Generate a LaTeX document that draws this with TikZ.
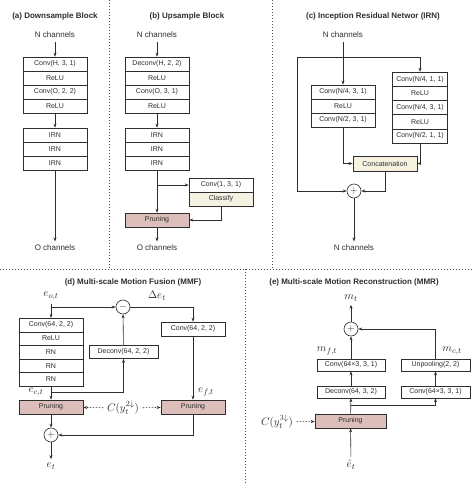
\documentclass[tikz,border=0pt]{standalone}
\usepackage[no-math]{fontspec}
\setmainfont{Liberation Sans}
\usepackage{amsmath}
\usetikzlibrary{arrows.meta,positioning,calc}
\definecolor{ink}{HTML}{2E2E2E}
\definecolor{prunefill}{HTML}{DCBEBA}
\definecolor{cream}{HTML}{F6F2E2}
\tikzset{
  blk/.style={draw=ink,fill=white,minimum width=64pt,minimum height=14pt,inner sep=0pt,font=\fontsize{7}{8}\selectfont},
  prunebox/.style={blk,fill=prunefill},
  lbl/.style={font=\fontsize{8}{9}\selectfont},
  ttl/.style={font=\fontsize{8}{9}\selectfont\bfseries},
  op/.style={draw=ink,fill=white,circle,minimum size=14pt,inner sep=0pt,font=\fontsize{10}{10}\selectfont},
  mlbl/.style={font=\fontsize{11}{12}\selectfont},
  sep/.style={ink!85,line width=1pt,dash pattern=on 1pt off 2pt},
  cue/.style={->,dash pattern=on 1.5pt off 1.5pt}
}
\begin{document}
\begin{tikzpicture}[x=1pt,y=-1pt,>={Stealth[length=4pt,width=3pt]},line width=.6pt,draw=ink,text=ink]
\useasboundingbox (0,0) rectangle (474,485);
% separators
\draw[sep] (109,0)--(109,269);
\draw[sep] (272,0)--(272,269);
\draw[sep] (0,269)--(474,269);
\draw[sep] (245,269)--(245,485);
% (a) downsample
\node[ttl] (ta) at (55,16){(a) Downsample Block};
\node[lbl] (na) at (55,35){N channels};
\foreach \t [count=\i] in {{Conv(H, 3, 1)},ReLU,{Conv(O, 2, 2)},ReLU}{\node[blk] (a\i) at (55,{50+14*\i}){\t};}
\foreach \i in {1,2,3}{\node[blk] (ia\i) at (55,{121+14*\i}){IRN};}
\node[lbl] (oa) at (55,248){O channels};
\draw[->] (na)--(a1);
\draw[->] (a4)--(ia1);
\draw[->] (ia3)--(oa);
% (b) upsample
\node[ttl] (tb) at (187,16){(b) Upsample Block};
\node[lbl] (nb) at (157,35){N channels};
\foreach \t [count=\i] in {{Deconv(H, 2, 2)},ReLU,{Conv(O, 3, 1)},ReLU}{\node[blk] (b\i) at (157,{50+14*\i}){\t};}
\foreach \i in {1,2,3}{\node[blk] (ib\i) at (157,{121+14*\i}){IRN};}
\node[blk] (cb) at (221,185){Conv(1, 3, 1)};
\node[blk,fill=cream] (kb) at (221,199){Classify};
\node[prunebox] (pb) at (157,220){Pruning};
\node[lbl] (ob) at (157,248){O channels};
\draw[->] (nb)--(b1);
\draw[->] (b4)--(ib1);
\draw[->] (ib3)--(pb);
\draw[->] (pb)--(ob);
\draw[->] (ib3.south |- cb.west)--(cb.west);
\draw[->] (kb.south) |- (pb.east);
% (c) inception residual
\node[ttl] (tc) at (373,16){(c) Inception Residual Networ (IRN)};
\node[lbl] (nc) at (343,35){N channels};
\foreach \t [count=\i] in {{Conv(N/4, 3, 1)},ReLU,{Conv(N/2, 3, 1)}}{\node[blk] (lc\i) at (343,{78+14*\i}){\t};}
\foreach \t [count=\i] in {{Conv(N/4, 1, 1)},ReLU,{Conv(N/4, 3, 1)},ReLU,{Conv(N/2, 1, 1)}}{\node[blk,minimum width=55pt,minimum height=14.2pt] (rc\i) at (420,{65+14.2*\i}){\t};}
\node[blk,fill=cream,minimum height=15pt] (cc) at (385,163.5){Concatenation};
\node[op] (pc) at (354,191){$+$};
\node[lbl] (oc) at (354,248){N channels};
\coordinate (lp) at (297,57);
\draw[->] (nc)--(lc1);
\draw[->] (lp) |- (pc.west);
\draw[->] (lp) -| (rc1.north);
\draw[->] (lc3.south) |- (cc.west);
\draw[->] (rc5.south) |- (cc.east);
\draw[->] (cc.south) |- (pc.east);
\draw[->] (pc)--(oc);
% (d) motion fusion
\node[ttl] (td) at (133,282){(d) Multi-scale Motion Fusion (MMF)};
\node[mlbl] (eo) at (51,296){$e_{o,t}$};
\foreach \t [count=\i] in {{Conv(64, 2, 2)},ReLU,RN,RN,RN}{\node[blk,minimum height=13.6pt] (d\i) at (51,{311.4+13.6*\i}){\t};}
\node[op] (md) at (123,307){$-$};
\node[mlbl] (de) at (157,296){$\Delta e_t$};
\node[blk] (cd) at (193,329){Conv(64, 2, 2)};
\node[blk,minimum width=69pt,minimum height=13pt] (dd) at (123.5,352){Deconv(64, 2, 2)};
\node[mlbl] (ec) at (36,392){$e_{c,t}$};
\node[mlbl] (ef) at (206,392){$e_{f,t}$};
\node[prunebox] (pl) at (51,407){Pruning};
\node[prunebox] (pr) at (193,407){Pruning};
\node[mlbl] (cy) at (123,408){$C(y_t^{2\downarrow})$};
\node[op] (ad) at (51,435){$+$};
\node[mlbl] (et) at (51,466){$e_t$};
\draw[->] (eo)--(d1);
\draw[->] (eo.south |- md)--(md);
\draw[->] (md) -| (cd.north);
\draw[->] (dd)--(md);
\draw[->] (d5)--(pl);
\draw[->] (d5.south |- ec) -| (dd.south);
\draw[->] (cd)--(pr);
\draw[->] (pl)--(ad);
\draw[->] (pr.south) |- (ad.east);
\draw[->] (ad)--(et);
\draw[cue] (cy)--(pl);
\draw[cue] (cy)--(pr);
% (e) motion reconstruction
\node[ttl] (te) at (354,282){(e) Multi-scale Motion Reconstruction (MMR)};
\node[mlbl] (mt) at (351,298){$m_t$};
\node[op] (pe) at (351,329){$+$};
\node[mlbl] (mf) at (327,351){$m_{f,t}$};
\node[mlbl] (mc) at (452,351){$m_{c,t}$};
\node[blk,minimum width=68pt,minimum height=12pt] (cl) at (351,365){Conv(64×3, 3, 1)};
\node[blk,minimum width=69pt,minimum height=12pt] (up) at (435.5,365){Unpooling(2, 2)};
\node[blk,minimum width=68pt,minimum height=12pt] (dl) at (351,392){Deconv(64, 3, 2)};
\node[blk,minimum width=69pt,minimum height=12pt] (cr) at (435.5,392){Conv(64×3, 3, 1)};
\node[prunebox,minimum width=71pt] (pm) at (350.5,421){Pruning};
\node[mlbl] (ce) at (277,422){$C(y_t^{3\downarrow})$};
\node[mlbl] (eh) at (351,465){$\hat{e}_t$};
\coordinate (br) at (351,405);
\draw[->] (eh)--(pm);
\draw[->] (pm)--(dl);
\draw[->] (br) -| (cr.south);
\draw[->] (dl)--(cl);
\draw[->] (cl)--(pe);
\draw[->] (cr)--(up);
\draw[->] (up.north) |- (pe.east);
\draw[->] (pe)--(mt);
\draw[cue] (ce)--(pm);
\end{tikzpicture}
\end{document}
